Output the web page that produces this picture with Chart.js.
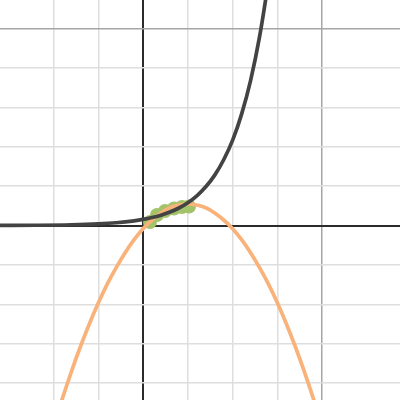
<!DOCTYPE html>
<html>
<head>
<meta charset="utf-8">
<script src="https://cdn.jsdelivr.net/npm/chart.js@4.4.0/dist/chart.umd.min.js"></script>
<style>
  html, body { margin: 0; padding: 0; background: #fff; }
  #wrap { width: 400px; height: 400px; position: relative; }
</style>
</head>
<body>
<div id="wrap"><canvas id="graph"></canvas></div>
<script>
// curve points
const blackX = [-1.6, -1.2, -0.8, -0.5, -0.3, -0.1, 0, 0.1, 0.2, 0.3, 0.4, 0.5, 0.6, 0.7, 0.8, 0.9, 1.0, 1.1, 1.2, 1.3, 1.4, 1.45];
const blackY = [0.0023, 0.0065, 0.0188, 0.0414, 0.07, 0.119, 0.155, 0.202, 0.263, 0.342, 0.445, 0.58, 0.755, 0.983, 1.28, 1.67, 2.17, 2.83, 3.68, 4.79, 6.23, 7.1];

const orangeX = [-1.0, -0.9, -0.8, -0.7, -0.6, -0.5, -0.4, -0.3, -0.2, -0.1, 0, 0.1, 0.2, 0.3, 0.4, 0.5,
                 0.6, 0.7, 0.8, 0.9, 1.0, 1.1, 1.2, 1.3, 1.4, 1.5, 1.6, 1.7, 1.8, 1.9, 2.0];
const orangeY = [-5.12, -4.39, -3.71, -3.08, -2.5, -1.97, -1.49, -1.07, -0.69, -0.36, -0.08, 0.14, 0.32, 0.45, 0.52, 0.546,
                 0.52, 0.45, 0.32, 0.14, -0.08, -0.36, -0.69, -1.07, -1.49, -1.97, -2.5, -3.08, -3.71, -4.39, -5.12];

const dotX = [0.077, 0.155, 0.245, 0.345, 0.434, 0.513];
const dotY = [0.089, 0.267, 0.368, 0.432, 0.47, 0.483];

// visible window
const xMin = -1.597, xMax = 2.868;
const yMin = -4.432, yMax = 5.728;

function toPoints(xs, ys) {
    return xs.map((x, i) => ({ x: x, y: ys[i] }));
}

function gridColor(step, major) {
    return ctx => {
        const v = ctx.tick.value;
        const n = v / step;
        if (Math.abs(n - Math.round(n)) > 1e-6) return 'rgba(0,0,0,0)';
        if (Math.abs(v) < 1e-6) return '#2b2b2b';
        if (Math.abs(v / major - Math.round(v / major)) < 1e-6) return '#a6a6a6';
        return '#dedede';
    };
}
function gridWidth(ctx) {
    return Math.abs(ctx.tick.value) < 1e-6 ? 2 : 1.5;
}

const graph = document.getElementById('graph');
new Chart(graph, {
    type: 'scatter',
    data: {
        datasets: [{
            label: 'black',
            data: toPoints(blackX, blackY),
            showLine: true,
            borderColor: '#434343',
            borderWidth: 3.7,
            pointRadius: 0,
            cubicInterpolationMode: 'monotone'
        }, {
            label: 'orange',
            data: toPoints(orangeX, orangeY),
            showLine: true,
            borderColor: '#f9b27a',
            borderWidth: 3.7,
            pointRadius: 0,
            cubicInterpolationMode: 'monotone'
        }, {
            label: 'points',
            data: toPoints(dotX, dotY),
            showLine: false,
            pointRadius: 7,
            pointBorderWidth: 0,
            backgroundColor: '#a3c36a',
            borderColor: '#a3c36a'
        }]
    },
    options: {
        responsive: true,
        maintainAspectRatio: false,
        animation: false,
        layout: { padding: 0, autoPadding: false },
        plugins: {
            legend: { display: false },
            tooltip: { enabled: false }
        },
        scales: {
            x: {
                type: 'linear',
                min: xMin,
                max: xMax,
                ticks: { display: false, stepSize: 0.5 },
                border: { display: false },
                grid: { drawTicks: false, color: gridColor(0.5, 2), lineWidth: gridWidth },
                afterFit: scale => { scale.height = 0; }
            },
            y: {
                type: 'linear',
                min: yMin,
                max: yMax,
                ticks: { display: false, stepSize: 1 },
                border: { display: false },
                grid: { drawTicks: false, color: gridColor(1, 5), lineWidth: gridWidth },
                afterFit: scale => { scale.width = 0; }
            }
        }
    }
});
</script>
</body>
</html>
